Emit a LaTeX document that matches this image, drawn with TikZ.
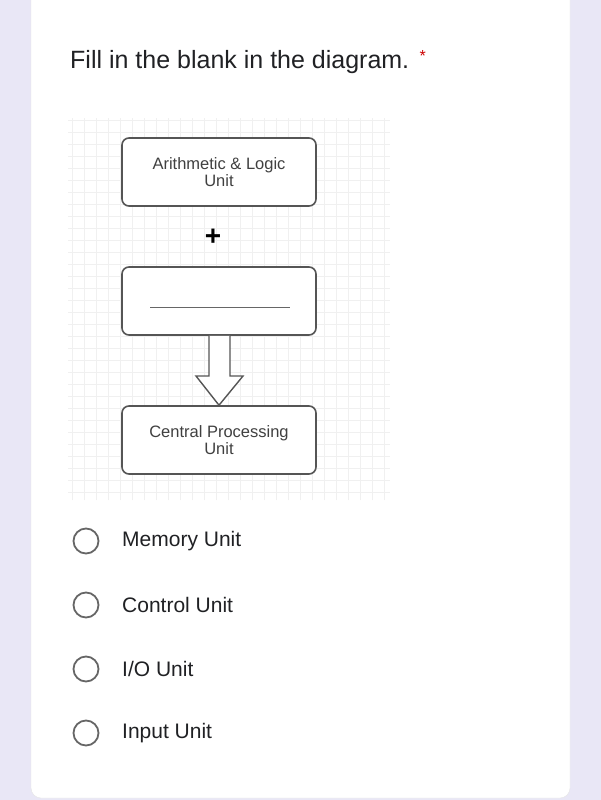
\documentclass[tikz,border=0pt]{standalone}
\usepackage{fontspec}
\setmainfont{Liberation Sans}
\definecolor{bgc}{HTML}{E9E7F6}
\definecolor{gridc}{HTML}{F0F0F0}
\definecolor{boxc}{HTML}{555555}
\definecolor{txt}{HTML}{202124}
\tikzset{x=1pt,y=-1pt,
 ubox/.style={draw=boxc,line width=1.6pt,rounded corners=7pt,fill=white,minimum width=194pt,minimum height=68pt,inner sep=0pt,align=center,font=\fontsize{16.5}{17}\selectfont,text=black!75},
 radio/.style={circle,draw=black!60,line width=1.8pt,minimum size=25pt,inner sep=0pt},
 opt/.style={anchor=west,font=\fontsize{21}{21}\selectfont,text=txt}}
\begin{document}
\begin{tikzpicture}
\useasboundingbox (0,0) rectangle (601,800);
\fill[bgc] (0,0) rectangle (601,800);
\fill[white,draw=black!10,rounded corners=10pt] (31,-20) rectangle (570,798);
\node[anchor=west,font=\fontsize{25}{25}\selectfont,text=txt,inner sep=0pt] (title) at (70,62) {Fill in the blank in the diagram.};
\node[anchor=west,text=red!80!black,font=\fontsize{16}{16}\selectfont,inner sep=0pt] (star) at ([xshift=10pt,yshift=6pt]title.east) {*};
\draw[gridc,step=12pt] (68,118) grid (390,500);
\node[ubox] (alu) at (219,172) {Arithmetic \& Logic\\Unit};
\node[font=\fontsize{28}{28}\selectfont\bfseries] (plus) at (213,237) {+};
\node[ubox] (blank) at (219,301) {};
\draw[black!60,line width=0.6pt] (150,307) -- (290,307);
\node[ubox] (cpu) at (219,440) {Central Processing\\Unit};
\draw[boxc,line width=1.4pt,fill=white,line join=miter] (blank.south -| 209,0) -- (209,376) -- (196,376) -- (cpu.north) -- (243,376) -- (230,376) -- (blank.south -| 230,0);
\foreach \y/\t [count=\i] in {541/{Memory Unit},605/{Control Unit},669/{I/O Unit},733/{Input Unit}}{
 \node[radio] (r\i) at (86,\y) {};
 \node[opt,inner sep=0pt] (o\i) at (122,\y) {\t};
}
\end{tikzpicture}
\end{document}
